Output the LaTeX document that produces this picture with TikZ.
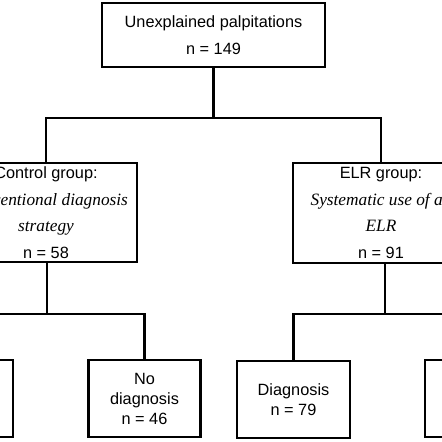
\documentclass[tikz,border=0pt]{standalone}
\usepackage{fontspec}
\setmainfont{Liberation Sans}
\newfontfamily\tnr{Liberation Serif}
\newcommand{\itl}[1]{{\tnr\itshape\fontsize{17.3}{26.5}\selectfont #1}}
\tikzset{
  box/.style={draw, line width=2.6pt, inner sep=0pt, align=center,
    font=\fontsize{16.3}{26.5}\selectfont},
  conn/.style={line width=2.6pt}
}
\begin{document}
\begin{tikzpicture}[x=1pt,y=1pt]
\useasboundingbox (0,0) rectangle (442,-442);
\node[box, minimum width=223pt, minimum height=64pt, font=\fontsize{16.3}{27}\selectfont] (top) at (213.5,-35) {Unexplained palpitations\\n = 149};
\node[box, minimum width=182pt, minimum height=99pt] (ctrl) at (46,-212.5)
  {Control group:\\\itl{Conventional diagnosis}\\\itl{strategy}\\n = 58};
\node[box, minimum width=176pt, minimum height=100pt] (elr) at (381,-213)
  {ELR group:\\\itl{Systematic use of an}\\\itl{ELR}\\n = 91};
\node[box, minimum width=112pt, minimum height=77pt] (d1) at (-43,-398.5) {};
\node[box, minimum width=112pt, minimum height=77pt, font=\fontsize{16.3}{20}\selectfont] (nd1) at (144.5,-398.5) {No\\diagnosis\\n = 46};
\node[box, minimum width=113pt, minimum height=77pt, font=\fontsize{16.3}{20}\selectfont] (d2) at (293.5,-399.5) {Diagnosis\\n = 79};
\node[box, minimum width=113pt, minimum height=77pt] (nd2) at (481.5,-398.5) {};
\coordinate (s1) at (213.5,-118);
\coordinate (s2) at (47,-314);
\coordinate (s3) at (385,-314);
\draw[conn] (top.south) -- (s1);
\draw[conn] (ctrl.north) |- (s1) -| (elr.north);
\draw[conn] (s2 |- ctrl.south) -- (s2);
\draw[conn] (d1.north) |- (s2) -| (nd1.north);
\draw[conn] (s3 |- elr.south) -- (s3);
\draw[conn] (d2.north) |- (s3) -| (nd2.north);
\end{tikzpicture}
\end{document}
